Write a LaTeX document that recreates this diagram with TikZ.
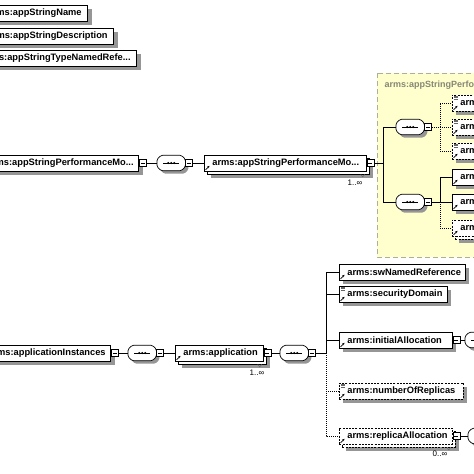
\documentclass[tikz,border=0pt]{standalone}
\usepackage{fontspec}
\newfontfamily\lsans{Liberation Sans}
\usetikzlibrary{arrows.meta}
\definecolor{grpfill}{RGB}{255,255,206}
\definecolor{grpline}{RGB}{175,175,150}
\definecolor{grptext}{RGB}{135,135,115}
\definecolor{shgray}{RGB}{150,150,150}
\newcommand\xoct[3][]{%
  \path[#1, rounded corners=1.5pt] ([shift={(#3)},xshift=4pt]#2.north west) -- ([shift={(#3)},xshift=-4pt]#2.north east)
    -- ([shift={(#3)},yshift=-4pt]#2.north east) -- ([shift={(#3)},yshift=4pt]#2.south east)
    -- ([shift={(#3)},xshift=-4pt]#2.south east) -- ([shift={(#3)},xshift=4pt]#2.south west)
    -- ([shift={(#3)},yshift=4pt]#2.south west) -- ([shift={(#3)},yshift=-4pt]#2.north west) -- cycle;}
\newcommand\xshad[3]{\fill[shgray] (#1+4,#3-4) rectangle (#2+4,#3+12);}
\tikzset{
  elem/.style={draw, line width=0.7pt, fill=white, rectangle, minimum height=16pt,
    inner xsep=0pt, inner ysep=0pt, align=left,
    font=\lsans\bfseries\fontsize{9.3}{11}\selectfont},
  w/.style={text width=#1pt},
  opt/.style={dash pattern=on 2pt off 1.2pt},
  minusbox/.style={draw, line width=0.5pt, fill=white, minimum size=7pt, inner sep=0pt,
    path picture={\draw[line width=0.6pt] ([xshift=1.5pt]path picture bounding box.west) -- ([xshift=-1.5pt]path picture bounding box.east);}},
  seqbox/.style={rectangle, minimum width=28pt, minimum height=15pt, inner sep=0pt},
  octline/.style={draw, line width=0.7pt, fill=white},
  conn/.style={line width=0.6pt},
  dotc/.style={line width=0.6pt, dash pattern=on 1pt off 1pt},
  refarr/.style={line width=0.6pt, -{Stealth[length=2.4pt,width=2.4pt]}},
  lines/.style={line width=0.4pt, draw=black!60},
  multtext/.style={font=\lsans\fontsize{8}{9}\selectfont},
  grplabel/.style={anchor=west, text=grptext, font=\lsans\bfseries\fontsize{9}{11}\selectfont}
}
\begin{document}
\begin{tikzpicture}[x=1pt,y=-1pt]
\useasboundingbox (0,0) rectangle (474,474);
\clip (0,0) rectangle (474,474);
\fill[white] (0,0) rectangle (474,474);
\draw[fill=grpfill, draw=grpline, dash pattern=on 5pt off 3pt, line width=0.8pt] (377,73) rectangle (540,257);

% element shadows
\xshad{-20}{88}{13}
\xshad{-20}{114}{36}
\xshad{-20}{137}{58}
\xshad{-20}{139}{163}
\xshad{207}{369}{166}
\xshad{452}{560}{103}
\xshad{452}{560}{127}
\xshad{452}{560}{151}
\xshad{452}{560}{177}
\xshad{452}{560}{202}
\xshad{455}{560}{231}
\xshad{-20}{111}{353}
\xshad{178}{266}{356}
\xshad{339}{465}{272}
\xshad{339}{447}{294}
\xshad{339}{452}{340}
\xshad{339}{463}{391}
\xshad{342}{455}{439}

% top global elements
\node[elem, anchor=east, inner xsep=6pt] (asn) at (88,13) {arms:appStringName};
\node[elem, anchor=east, inner xsep=6pt] (asd) at (114,36) {arms:appStringDescription};
\node[elem, anchor=east, inner xsep=6pt] (ast) at (137,58) {arms:appStringTypeNamedRefe...};

% row 2
\node[elem, anchor=east, inner xsep=5pt] (ps1) at (139,163) {arms:appStringPerformanceMo...};
\node[seqbox, anchor=west] (seq1) at (157,163) {};
\node[elem, w=162, anchor=west] (ps2b) at (207,166) {};
\node[elem, w=162, anchor=west] (ps2) at (204,163) {\hspace*{8pt}arms:appStringPerformanceMo...};
\node[multtext] (c1) at (355,183) {1..∞};

% group
\node[grplabel] (glab) at (381,85) {arms:appStringPerformanceMo...};
\coordinate (t1) at (383,163);
\node[seqbox, anchor=west] (seqA) at (396,127) {};
\node[seqbox, anchor=west] (seqB) at (396,202) {};
\node[elem, opt, w=90, anchor=west] (g1) at (452,103) {\hspace*{8pt}arms:};
\node[elem, opt, w=90, anchor=west] (g2) at (452,127) {\hspace*{8pt}arms:};
\node[elem, opt, w=90, anchor=west] (g3) at (452,151) {\hspace*{8pt}arms:};
\node[elem, w=90, anchor=west] (g4) at (452,177) {\hspace*{8pt}arms:};
\node[elem, w=90, anchor=west] (g5) at (452,202) {\hspace*{8pt}arms:};
\node[elem, opt, w=90, anchor=west] (g6b) at (455,231) {};
\node[elem, opt, w=90, anchor=west] (g6) at (452,228) {\hspace*{8pt}arms:};
\coordinate (tA) at (440,127);
\coordinate (tB) at (440,202);

% row 3
\node[elem, anchor=east, inner xsep=5pt] (ai) at (111,353) {arms:applicationInstances};
\node[seqbox, anchor=west] (seq3) at (128,353) {};
\node[elem, w=88, anchor=west] (appb) at (178,356) {};
\node[elem, w=88, anchor=west] (app) at (175,353) {\hspace*{8pt}arms:application};
\node[multtext] (c2) at (257,373) {1..∞};
\node[seqbox, anchor=west] (seq4) at (280,353) {};
\coordinate (t3) at (326,353);
\node[elem, w=126, anchor=west] (sw) at (339,272) {\hspace*{8pt}arms:swNamedReference};
\node[elem, w=108, anchor=west] (sd) at (339,294) {\hspace*{8pt}arms:securityDomain};
\node[elem, w=113, anchor=west] (ia) at (339,340) {\hspace*{8pt}arms:initialAllocation};
\node[seqbox, anchor=west] (seq5) at (465,340) {};
\node[elem, opt, w=124, anchor=west] (nr) at (339,391) {\hspace*{8pt}arms:numberOfReplicas};
\node[elem, opt, w=113, anchor=west] (rab) at (342,439) {};
\node[elem, opt, w=113, anchor=west] (ra) at (339,436) {\hspace*{8pt}arms:replicaAllocation};
\node[seqbox, anchor=west] (seq6) at (468,436) {};
\node[multtext] (c3) at (440,454) {0..∞};

% sequence compositors
\foreach \n in {seq1,seqA,seqB,seq3,seq4,seq5,seq6}{
  \xoct[fill=shgray]{\n}{3pt,-3pt}
  \xoct[octline]{\n}{0pt,0pt}
  \draw[line width=0.7pt] ([xshift=6pt]\n.west) -- ([xshift=-6pt]\n.east);
  \foreach \xo in {-3,0,3} {\fill ([xshift=\xo pt]\n.center) circle (1.1pt);}
}

% minus boxes
\node[minusbox, anchor=west] (m1) at (ps1.east) {};
\node[minusbox, anchor=west] (m2) at (seq1.east) {};
\node[minusbox, anchor=west] (m3) at (ps2.east) {};
\node[minusbox, anchor=west] (mA) at (seqA.east) {};
\node[minusbox, anchor=west] (mB) at (seqB.east) {};
\node[minusbox, anchor=west] (m4) at (ai.east) {};
\node[minusbox, anchor=west] (m5) at (seq3.east) {};
\node[minusbox, anchor=west] (m6) at (app.east) {};
\node[minusbox, anchor=west] (m7) at (seq4.east) {};
\node[minusbox, anchor=west] (m8) at (ia.east) {};
\node[minusbox, anchor=west] (m9) at (ra.east) {};

% connectors
\draw[conn] (m1.east) -- (seq1.west);
\draw[conn] (m2.east) -- (ps2.west);
\draw[conn] (m3.east) -- (t1);
\draw[conn] (t1) |- (seqA.west);
\draw[conn] (t1) |- (seqB.west);
\draw[dotc] (mA.east) -- (tA);
\draw[dotc] (tA) |- (g1.west);
\draw[dotc] (tA) -- (g2.west);
\draw[dotc] (tA) |- (g3.west);
\draw[conn] (mB.east) -- (tB);
\draw[conn] (tB) |- (g4.west);
\draw[conn] (tB) -- (g5.west);
\draw[dotc] (tB) |- (g6.west);
\draw[conn] (m4.east) -- (seq3.west);
\draw[conn] (m5.east) -- (app.west);
\draw[conn] (m6.east) -- (seq4.west);
\draw[conn] (m7.east) -- (t3);
\draw[conn] (t3) |- (sw.west);
\draw[conn] (t3) |- (sd.west);
\draw[conn] (t3) |- (ia.west);
\draw[dotc] (t3) |- (nr.west);
\draw[dotc] (t3) |- (ra.west);
\draw[conn] (m8.east) -- (seq5.west);
\draw[conn] (m9.east) -- (seq6.west);

% reference arrows
\foreach \n in {ps2,app,sw,sd,ia,nr,ra,g1,g2,g3,g4,g5,g6}
  {\draw[refarr] ([shift={(1.5pt,1.5pt)}]\n.south west) -- +(4pt,4pt);}
% simple-content marks
\foreach \n in {sd,nr,g1,g2,g3}
  {\foreach \k in {0,1.4,2.8}
    {\draw[lines] ([shift={(2pt,-1.6pt-\k pt)}]\n.north west) -- +(3.5pt,0pt);}}
% multiplicity notches
\foreach \n in {ps2b,appb,rab}
  {\draw[line width=0.5pt, draw=black!60] ([shift={(-9pt,0pt)}]\n.south east) -- ([shift={(-7pt,-2.5pt)}]\n.south east) -- ([shift={(-5pt,0pt)}]\n.south east);}
\end{tikzpicture}
\end{document}
